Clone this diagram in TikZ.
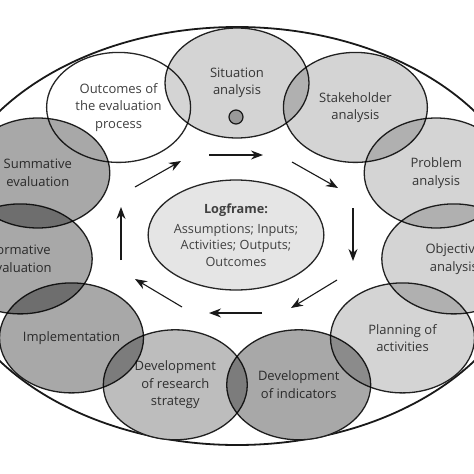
\documentclass[tikz,border=0pt]{standalone}
\usepackage{fontspec}
\setmainfont{Open Sans}
\usetikzlibrary{shapes.geometric,arrows.meta,positioning}

\definecolor{palegray}{HTML}{D4D4D4}
\definecolor{midgray}{HTML}{BDBDBD}
\definecolor{darkgray}{HTML}{A8A8A8}
\definecolor{framegray}{HTML}{E5E5E5}

\begin{document}
\begin{tikzpicture}[x=1pt, y=-1pt, >={Stealth[length=12pt,width=9pt]}, semithick,
    stage/.style={ellipse, draw=black!85, line width=1.3pt, minimum width=144pt,
                  minimum height=110pt, inner sep=0pt, align=center,
                  font=\fontsize{13}{17.5}\selectfont, text=black!75},
    flow/.style={->, line width=1.1pt, black!90}]
    \useasboundingbox (0,0) rectangle (474,474);

    % outer frame
    \draw[line width=1.8pt, black!90] (237,236) ellipse [x radius=296pt, y radius=209pt];

    \begin{scope}[blend group=multiply]
    \node[stage, fill=palegray]  (situation)   at (237,83)    {Situation\\analysis};
    \node[stage, fill=palegray]  (stakeholder) at (355.4,107.4) {Stakeholder\\analysis};
    \node[stage, fill=palegray]  (problem)     at (436.2,173)   {Problem\\analysis};
    \node[stage, fill=palegray]  (objective)   at (453.8,258.9) {Objective\\analysis};
    \node[stage, fill=palegray]  (planning)    at (402.5,337.9) {Planning of\\activities};
    \node[stage, fill=darkgray]  (indicators)  at (298.7,384.8) {Development\\of indicators};
    \node[stage, fill=midgray]   (research)    at (175.3,384.8) {Development\\of research\\strategy};
    \node[stage, fill=darkgray]  (implement)   at (71.5,337.9)  {Implementation};
    \node[stage, fill=darkgray]  (formative)   at (20.2,258.9)  {Formative\\evaluation};
    \node[stage, fill=darkgray]  (summative)   at (37.8,173)    {Summative\\evaluation};
    \node[stage, fill=white]     (outcomes)    at (118.6,107.4) {Outcomes of\\the evaluation\\process};
    \end{scope}

    \node[circle, draw=black!90, fill=black!40, line width=1.2pt, minimum size=14pt, inner sep=0pt] (dot) at (236,117) {};

    % centre
    \node[stage, fill=framegray, font=\fontsize{12.7}{16.5}\selectfont] (logframe) at (236,235)
        {\textbf{Logframe:}\\[3pt]Assumptions; Inputs;\\Activities; Outputs;\\Outcomes};

    % cycle arrows
    \coordinate (a1) at (209,155);   \coordinate (b1) at (263,155);
    \coordinate (a2) at (292,162);   \coordinate (b2) at (338,188);
    \coordinate (a3) at (353,208);   \coordinate (b3) at (353,261);
    \coordinate (a4) at (337,280);   \coordinate (b4) at (291,308);
    \coordinate (a5) at (262,313);   \coordinate (b5) at (209,313);
    \coordinate (a6) at (182,307);   \coordinate (b6) at (135,279);
    \coordinate (a7) at (121,260);   \coordinate (b7) at (121,207);
    \coordinate (a8) at (135,187);   \coordinate (b8) at (181,161);
    \draw[flow] (a1) -- (b1);
    \draw[flow] (a2) -- (b2);
    \draw[flow] (a3) -- (b3);
    \draw[flow] (a4) -- (b4);
    \draw[flow] (a5) -- (b5);
    \draw[flow] (a6) -- (b6);
    \draw[flow] (a7) -- (b7);
    \draw[flow] (a8) -- (b8);
\end{tikzpicture}
\end{document}
